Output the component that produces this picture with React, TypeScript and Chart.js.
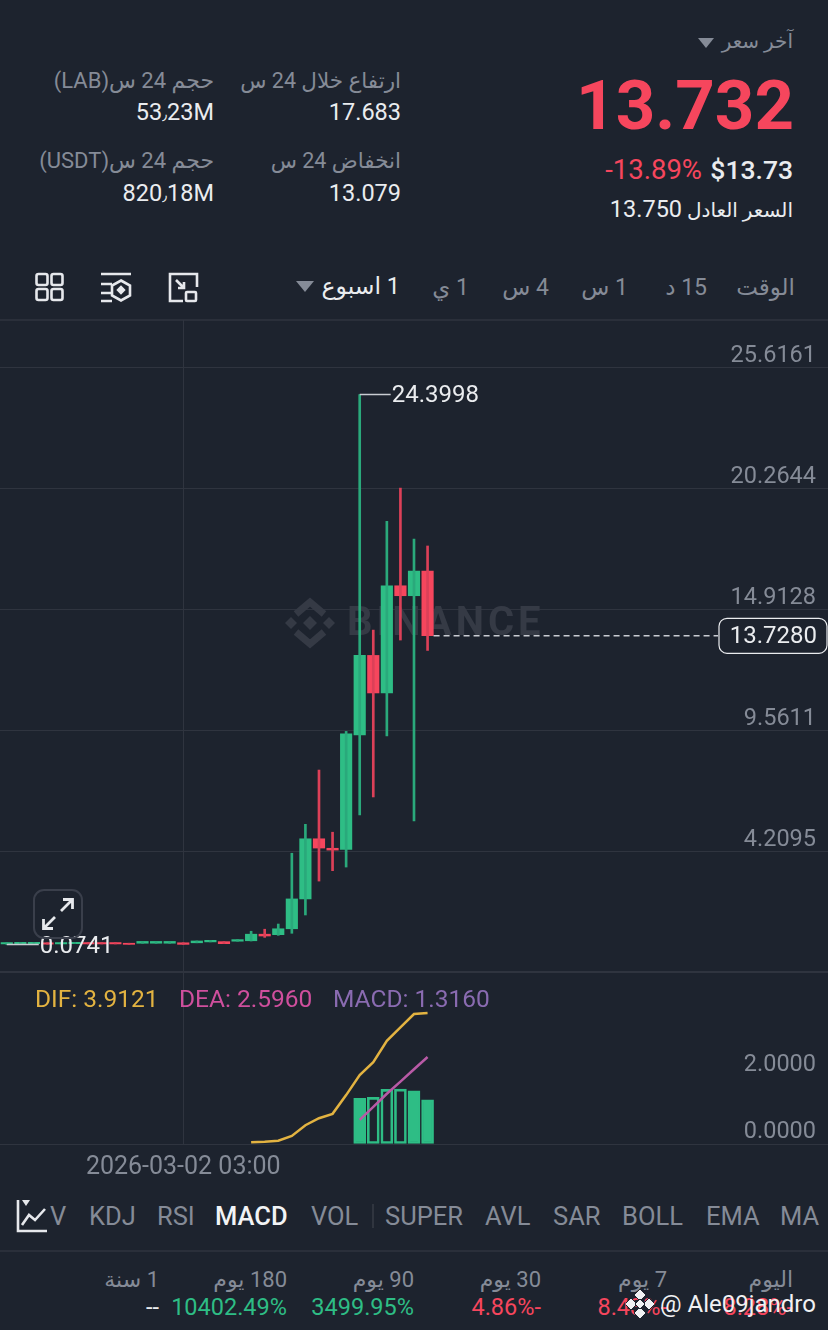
import React, { useEffect, useRef } from "react";
import { Chart, registerables } from "chart.js";

Chart.register(...registerables);

const SLOT_COUNT = 61;
const CROSS_INDEX = 13;
const crossLabel = "2026-03-02 03:00";
const categories: string[] = Array.from({ length: SLOT_COUNT }, (_, i) => (i === CROSS_INDEX ? crossLabel : ""));

const opens = [0.10, 0.11, 0.11, 0.15, 0.10, 0.11, 0.16, 0.16, 0.16, 0.13, 0.13, 0.13, 0.13, 0.15, 0.15, 0.19, 0.20, 0.22, 0.24, 0.53, 0.51, 0.77, 2.09, 4.75, 4.33, 4.28, 9.34, 12.86, 11.20, 15.94, 15.50, 16.59];
const closes = [0.16, 0.17, 0.17, 0.09, 0.16, 0.17, 0.10, 0.10, 0.10, 0.08, 0.21, 0.21, 0.21, 0.08, 0.23, 0.26, 0.11, 0.29, 0.53, 0.45, 0.77, 2.09, 4.75, 4.34, 4.25, 9.39, 12.86, 11.20, 15.94, 15.50, 16.59, 13.728];
const highs = [0.16, 0.17, 0.17, 0.15, 0.16, 0.17, 0.16, 0.16, 0.16, 0.13, 0.21, 0.21, 0.21, 0.15, 0.23, 0.26, 0.20, 0.29, 0.66, 0.75, 0.98, 4.11, 5.39, 7.79, 5.04, 9.50, 24.3998, 13.98, 18.79, 20.26, 18.01, 17.70];
const lows = [0.0741, 0.11, 0.11, 0.09, 0.10, 0.11, 0.10, 0.10, 0.10, 0.08, 0.13, 0.13, 0.13, 0.08, 0.15, 0.19, 0.11, 0.22, 0.23, 0.39, 0.48, 0.57, 1.38, 2.88, 3.34, 3.50, 5.80, 6.60, 9.30, 13.54, 5.54, 13.08];

const priceTicks = [25.6161, 20.2644, 14.9128, 9.5611, 4.2095];
const PRICE_MIN = -1.142;
const PRICE_MAX = 27.695;

const macdStart = 18;
const difValues = [0.05, 0.07, 0.10, 0.24, 0.56, 0.77, 0.90, 1.46, 2.06, 2.44, 3.08, 3.48, 3.88, 3.9121];
const deaValues = [0.72, 1.11, 1.50, 1.86, 2.23, 2.596];
const macdValues = [1.36, 1.39, 1.63, 1.64, 1.59, 1.316];
const macdTicks = [2, 0];
const MACD_MIN = 0;
const MACD_MAX = 5.134;

const BG = "#1d232e";
const GREEN = "#2ebd85";
const RED = "#f6465d";
const GREY = "#858b97";
const WHITE = "#eaecef";
const GRID = "#2f343f";
const FONT = 'Roboto, "DejaVu Sans", sans-serif';

const padTo = (arr: (number | null)[], from: number) => {
  const out: (number | null)[] = new Array(SLOT_COUNT).fill(null);
  arr.forEach((v, i) => (out[from + i] = v));
  return out;
};

const annotationPlugin = {
  id: "annotations",
  beforeDatasetsDraw(chart: any) {
    const { ctx } = chart;
    ctx.save();
    ctx.translate(310, 303);
    ctx.fillStyle = "#353a45";
    ctx.strokeStyle = "#353a45";
    ctx.lineWidth = 7;
    ctx.lineJoin = "miter";
    const diamond = (x: number, y: number, r: number) => {
      ctx.beginPath();
      ctx.moveTo(x - r, y);
      ctx.lineTo(x, y - r);
      ctx.lineTo(x + r, y);
      ctx.lineTo(x, y + r);
      ctx.closePath();
      ctx.fill();
    };
    diamond(0, 0, 7);
    diamond(-19, 0, 6);
    diamond(19, 0, 6);
    ctx.beginPath();
    ctx.moveTo(-14, -9);
    ctx.lineTo(0, -21);
    ctx.lineTo(14, -9);
    ctx.stroke();
    ctx.beginPath();
    ctx.moveTo(-14, 9);
    ctx.lineTo(0, 21);
    ctx.lineTo(14, 9);
    ctx.stroke();
    ctx.font = `700 40px ${FONT}`;
    ctx.textBaseline = "middle";
    ctx.textAlign = "left";
    (ctx as any).letterSpacing = "4px";
    ctx.fillText("BINANCE", 37, 2);
    ctx.restore();
  },
  afterDatasetsDraw(chart: any) {
    const { ctx, scales } = chart;
    const x = scales.x;
    const y = scales.y;
    ctx.save();
    ctx.font = `400 24px ${FONT}`;
    ctx.textBaseline = "middle";
    ctx.textAlign = "left";
    ctx.fillStyle = WHITE;
    ctx.strokeStyle = "#c9ccd2";
    ctx.lineWidth = 1.5;

    const hi = Math.max(...highs);
    const hiIdx = highs.indexOf(hi);
    const hx = x.getPixelForValue(hiIdx);
    const hy = y.getPixelForValue(hi);
    ctx.beginPath();
    ctx.moveTo(hx, hy);
    ctx.lineTo(hx + 31, hy);
    ctx.stroke();
    ctx.fillText(hi.toFixed(4), hx + 32, hy + 1.5);

    const lo = Math.min(...lows);
    const loIdx = lows.indexOf(lo);
    const lx = x.getPixelForValue(loIdx);
    const ly = y.getPixelForValue(lo);
    ctx.beginPath();
    ctx.moveTo(lx, ly);
    ctx.lineTo(lx + 32, ly);
    ctx.stroke();
    ctx.fillText(lo.toFixed(4), lx + 33, ly + 2);

    const last = closes[closes.length - 1];
    const cx = x.getPixelForValue(closes.length - 1);
    const cy = y.getPixelForValue(last);
    ctx.setLineDash([6, 4]);
    ctx.beginPath();
    ctx.moveTo(cx + 6, cy);
    ctx.lineTo(718, cy);
    ctx.stroke();
    ctx.setLineDash([]);
    ctx.beginPath();
    ctx.roundRect(719, cy - 17.5, 108, 35, 8);
    ctx.fillStyle = BG;
    ctx.fill();
    ctx.strokeStyle = WHITE;
    ctx.lineWidth = 1.2;
    ctx.stroke();
    ctx.fillStyle = WHITE;
    ctx.textAlign = "right";
    ctx.fillText(last.toFixed(4), 817, cy + 1.5);
    ctx.restore();
  },
};

function T({ x, y, right, children, color = GREY, size = 22, weight = 400, rtl = false, center = false }: any) {
  const style: React.CSSProperties = {
    position: "absolute",
    top: y,
    transform: center ? "translate(-50%,-50%)" : "translateY(-50%)",
    color,
    fontSize: size,
    fontWeight: weight,
    fontFamily: FONT,
    whiteSpace: "nowrap",
    lineHeight: 1,
  };
  if (right !== undefined) style.right = 828 - right;
  else style.left = x;
  return (
    <div style={style} dir={rtl ? "rtl" : "ltr"}>
      {children}
    </div>
  );
}

const stroke = { fill: "none", stroke: "#e6e8ec", strokeWidth: 2.6 };

const fitY = (s: any) => {
  s.width = 0;
  s.paddingTop = 0;
  s.paddingBottom = 0;
  s.paddingLeft = 0;
  s.paddingRight = 0;
};

const Sep = () => <span style={{ fontSize: 15 }}>٫</span>;

export default function App() {
  const priceRef = useRef<HTMLCanvasElement>(null);
  const macdRef = useRef<HTMLCanvasElement>(null);

  useEffect(() => {
    const gridForCross = (ctx: any) => (ctx.index === CROSS_INDEX ? GRID : "transparent");
    const candleColors = closes.map((c, i) => (c >= opens[i] ? GREEN : RED));
    const price = new Chart(priceRef.current!, {
      type: "bar",
      data: {
        labels: categories,
        datasets: [
          {
            label: "wick",
            data: lows.map((l, i) => [l, highs[i]]) as any,
            backgroundColor: closes.map((c, i) => (c >= opens[i] ? "#2aa97b" : "#dc4058")),
            barThickness: 2,
            grouped: false,
          } as any,
          {
            label: "body",
            data: opens.map((o, i) => [o, closes[i]]) as any,
            backgroundColor: candleColors,
            barThickness: 11.5,
            grouped: false,
          } as any,
        ],
      },
      options: {
        responsive: false,
        animation: false,
        layout: { padding: 0 },
        plugins: { legend: { display: false }, tooltip: { enabled: false } },
        scales: {
          x: {
            offset: true,
            border: { display: false },
            grid: { color: gridForCross as any, drawTicks: false, offset: false },
            ticks: { display: false, autoSkip: false },
            afterFit: (s: any) => {
              s.height = 0;
              s.paddingLeft = 0;
              s.paddingRight = 0;
            },
          } as any,
          y: {
            position: "right",
            min: PRICE_MIN,
            max: PRICE_MAX,
            border: { display: false },
            grid: { color: GRID, drawTicks: false },
            afterBuildTicks: (s: any) => { s.ticks = priceTicks.map((value) => ({ value })); },
            afterFit: fitY,
            ticks: {
              mirror: true,
              padding: -12,
              labelOffset: -11,
              color: GREY,
              font: { family: FONT, size: 23.5 },
              callback: (v: any) => Number(v).toFixed(4),
            },
          } as any,
        },
      },
      plugins: [annotationPlugin as any],
    });

    const macdPad = padTo(macdValues, macdStart + 8);
    const macdFill = macdPad.map((v, i) => {
      const prev = macdPad[i - 1];
      return v !== null && prev !== null && prev !== undefined && v > prev ? "transparent" : GREEN;
    });
    const macd = new Chart(macdRef.current!, {
      type: "bar",
      data: {
        labels: categories,
        datasets: [
          {
            type: "line",
            label: "DIF",
            data: padTo(difValues, macdStart),
            borderColor: "#e3b341",
            borderWidth: 2.5,
            pointRadius: 0,
            tension: 0,
            order: 1,
          } as any,
          {
            type: "line",
            label: "DEA",
            data: padTo(deaValues, macdStart + 8),
            borderColor: "#b85aa6",
            borderWidth: 2.5,
            pointRadius: 0,
            tension: 0,
            order: 2,
          } as any,
          {
            type: "bar",
            label: "MACD",
            data: macdPad,
            backgroundColor: macdFill,
            borderColor: GREEN,
            borderWidth: 2,
            borderSkipped: false,
            barThickness: 12,
            order: 3,
          } as any,
        ],
      },
      options: {
        responsive: false,
        animation: false,
        layout: { padding: 0 },
        plugins: { legend: { display: false }, tooltip: { enabled: false } },
        scales: {
          x: {
            offset: true,
            border: { display: false },
            grid: { color: gridForCross as any, drawTicks: false, offset: false },
            afterFit: (s: any) => {
              s.height = 36;
              s.paddingLeft = 0;
              s.paddingRight = 0;
            },
            ticks: {
              autoSkip: false,
              maxRotation: 0,
              padding: 9,
              color: GREY,
              font: { family: FONT, size: 25 },
              callback: (_: any, i: number) => categories[i],
            },
          } as any,
          y: {
            position: "right",
            min: MACD_MIN,
            max: MACD_MAX,
            border: { display: false },
            grid: { color: (c: any) => (c.tick && c.tick.value === 0 ? GRID : "transparent"), drawTicks: false },
            afterBuildTicks: (s: any) => { s.ticks = macdTicks.map((value) => ({ value })); },
            afterFit: fitY,
            ticks: {
              mirror: true,
              padding: -12,
              labelOffset: -12,
              color: GREY,
              font: { family: FONT, size: 23.5 },
              callback: (v: any) => Number(v).toFixed(4),
            },
          } as any,
        },
      },
    });
    return () => {
      price.destroy();
      macd.destroy();
    };
  }, []);

  const last = (a: number[]) => a[a.length - 1].toFixed(4);
  const tabs = [
    ["الوقت", 795, GREY],
    ["15 د", 707, GREY],
    ["1 س", 628, GREY],
    ["4 س", 549, GREY],
    ["1 ي", 469, GREY],
    ["1 اسبوع", 400, WHITE],
  ] as const;
  const indicators = [
    ["V", 50], ["KDJ", 89], ["RSI", 157], ["MACD", 215], ["VOL", 311], ["SUPER", 385],
    ["AVL", 485], ["SAR", 553], ["BOLL", 622], ["EMA", 706], ["MA", 780],
  ] as const;
  const periods = [
    ["1 سنة", "--", 159, WHITE],
    ["180 يوم", "10402.49%", 287, GREEN],
    ["90 يوم", "3499.95%", 414, GREEN],
    ["30 يوم", "4.86%-", 541, RED],
    ["7 يوم", "8.43%-", 667, RED],
    ["اليوم", "8.28%-", 793, RED],
  ] as const;

  return (
    <div style={{ position: "relative", width: 828, height: 1330, background: BG, overflow: "hidden" }}>
      <style>{`html,body{margin:0;padding:0;background:${BG}}`}</style>

      <T right={793} y={41} rtl size={20}>آخر سعر</T>
      <svg style={{ position: "absolute", left: 698, top: 38 }} width="16" height="11"><path d="M0 0H16L8 10Z" fill={GREY} /></svg>
      <T right={794} y={105} color={RED} size={69} weight={700}>13.732</T>
      <T right={793} y={170} color={WHITE} size={26.5} weight={500}>$13.73</T>
      <T right={702} y={170} color={RED} size={27.5}>-13.89%</T>
      <T right={793} y={210} rtl color={WHITE} size={20}>السعر العادل <span style={{ fontSize: 23.5 }}>13.750</span></T>

      <T right={401} y={81} rtl size={21.5}>ارتفاع خلال 24 س</T>
      <T right={401} y={113} color={WHITE} size={23.5}>17.683</T>
      <T right={401} y={161} rtl size={21.5}>انخفاض 24 س</T>
      <T right={401} y={194} color={WHITE} size={23.5}>13.079</T>
      <T right={214} y={81} rtl size={22}>حجم 24 س(LAB)</T>
      <T right={214} y={113} color={WHITE} size={23.5}>53<Sep />23M</T>
      <T right={214} y={161} rtl size={22}>حجم 24 س(USDT)</T>
      <T right={214} y={194} color={WHITE} size={23.5}>820<Sep />18M</T>

      {tabs.map(([t, r, c]) => (
        <T key={t} right={r} y={287} rtl color={c} size={c === WHITE ? 23.5 : 23}>{t}</T>
      ))}
      <svg style={{ position: "absolute", left: 296, top: 281 }} width="18" height="12"><path d="M0 0H18L9 11Z" fill={GREY} /></svg>

      <svg style={{ position: "absolute", left: 30, top: 268 }} width="175" height="40">
        <g {...stroke}>
          <rect x="6.5" y="6" width="11" height="11" rx="2" />
          <rect x="21.5" y="6" width="11" height="11" rx="2" />
          <rect x="6.5" y="21" width="11" height="11" rx="2" />
          <rect x="21.5" y="21" width="11" height="11" rx="2" />
          <path d="M71 6H101M71 16H82M71 25H82M71 33H82" />
          <path d="M91 12.5L100 17.5V27.5L91 32.5L82 27.5V17.5Z" />
          <rect x="89" y="20" width="4" height="4" transform="rotate(45 91 22)" fill="#e6e8ec" />
          <path d="M153 33H140V6H167V19" />
          <path d="M146 12L154 20M154 14V20H148" />
          <rect x="156" y="24" width="10" height="9" rx="1" />
        </g>
      </svg>

      <div style={{ position: "absolute", left: 0, top: 319, width: 828, height: 2, background: "#2a2f3a" }} />
      <div style={{ position: "absolute", left: 0, top: 971, width: 828, height: 1.5, background: GRID }} />
      <div style={{ position: "absolute", left: 0, top: 1250, width: 828, height: 1.5, background: "#2a2f3a" }} />

      <canvas ref={priceRef} width={828} height={652} style={{ position: "absolute", left: 0, top: 320, display: "block" }} />
      <canvas ref={macdRef} width={828} height={208} style={{ position: "absolute", left: 0, top: 972, display: "block" }} />

      <svg style={{ position: "absolute", left: 33, top: 889 }} width="50" height="50">
        <rect x="1" y="1" width="48" height="48" rx="10" fill="none" stroke="#3a3f4b" strokeWidth="2" />
        <g fill="none" stroke="#e6e8ec" strokeWidth="2.8">
          <path d="M28 22L39 11M30 10.5H39.5V20" />
          <path d="M22 28L11 39M20 39.5H10.5V30" />
        </g>
      </svg>

      <T x={35} y={999} color="#e3b341" size={24.5}>DIF: {last(difValues)}</T>
      <T x={179} y={999} color="#cf4f9d" size={24.5}>DEA: {last(deaValues)}</T>
      <T x={333} y={999} color="#8a6bb1" size={24.5}>MACD: {last(macdValues)}</T>

      <svg style={{ position: "absolute", left: 15, top: 1198 }} width="34" height="36">
        <g fill="none" stroke="#e6e8ec" strokeWidth="2.6">
          <path d="M3 2V33H32" />
          <path d="M7 27L14 17L20 22L30 11" />
        </g>
        <path d="M7 2H15L11 8Z" fill="#e6e8ec" />
      </svg>
      {indicators.map(([t, x]) => (
        <T key={t} x={x} y={1217} size={25.5} color={t === "MACD" ? "#f2f3f5" : GREY} weight={t === "MACD" ? 500 : 400}>{t}</T>
      ))}
      <div style={{ position: "absolute", left: 372, top: 1204, width: 1.5, height: 24, background: "#30353f" }} />

      {periods.map(([label, value, r, c]) => (
        <React.Fragment key={label}>
          <T right={r} y={1280} rtl size={22}>{label}</T>
          <T right={r} y={1308} color={c} size={23.5}>{value}</T>
        </React.Fragment>
      ))}
      <svg style={{ position: "absolute", left: 626, top: 1288 }} width="28" height="32">
        <g fill="#f0f1f3" stroke="#1d232e" strokeWidth="1">
          <path d="M14 1L20 7L14 13L8 7Z" />
          <path d="M14 19L20 25L14 31L8 25Z" />
          <path d="M5 10L11 16L5 22L-1 16Z" />
          <path d="M23 10L29 16L23 22L17 16Z" />
          <path d="M14 11L19 16L14 21L9 16Z" />
        </g>
      </svg>
      <T x={660} y={1304} color="#f0f1f3" size={24}>@ Ale09jandro</T>
    </div>
  );
}
